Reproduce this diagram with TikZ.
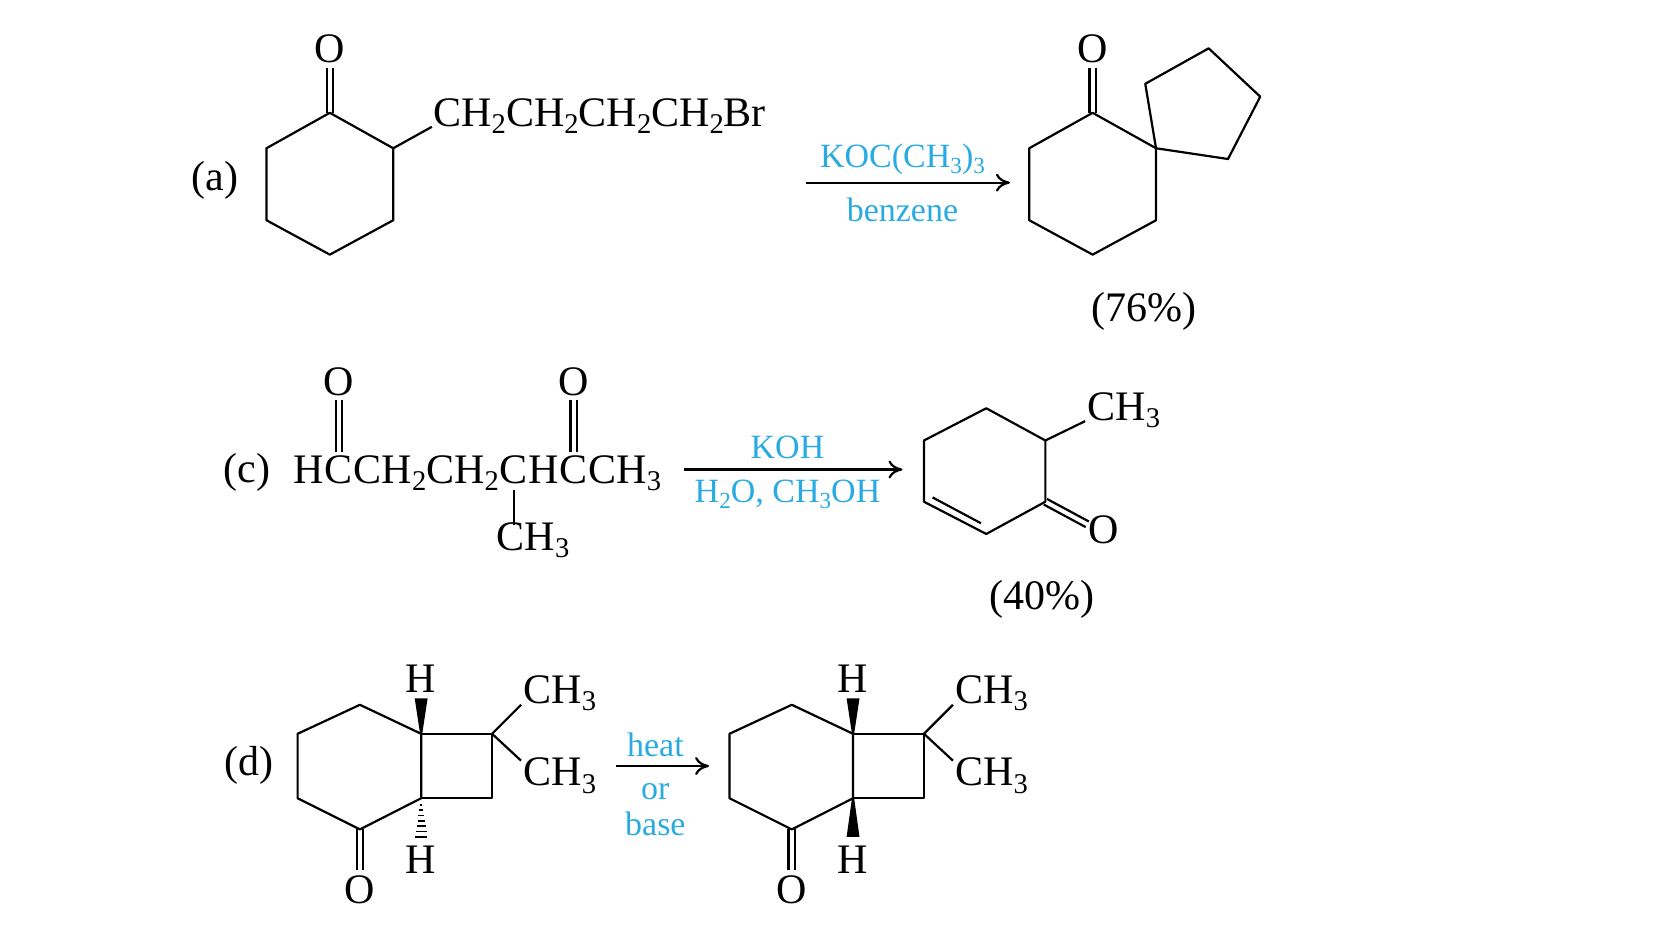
\documentclass[tikz,border=0pt]{standalone}
\usepackage{fontspec}
\usepackage{graphicx}
\setmainfont{Liberation Serif}
\usetikzlibrary{calc,arrows.meta}
\definecolor{rblue}{HTML}{29ABE2}
\newcommand{\sbs}[1]{\raisebox{-0.38ex}{\scalebox{0.68}{#1}}}
\begin{document}
\begin{tikzpicture}[x=0.537pt,y=-0.537pt,
  bond/.style={line width=1.1pt,line join=round},
  txt/.style={font=\fontsize{21}{24}\selectfont,inner sep=0pt},
  ch/.style={txt,anchor=base west},
  reag/.style={font=\fontsize{17}{20}\selectfont,text=rblue,inner sep=0pt},
  rxn/.style={line width=1.1pt,-{To[length=7pt,width=9pt]}}]
\useasboundingbox (0,0) rectangle (1560,873);
% ---------- (a) ----------
\node[txt] (la) at (200,168) {(a)};
\coordinate (a1) at (307,105); \coordinate (a2) at (366,138); \coordinate (a3) at (366,205);
\coordinate (a4) at (307,237); \coordinate (a5) at (248,205); \coordinate (a6) at (248,138);
\draw[bond] (a1)--(a2)--(a3)--(a4)--(a5)--(a6)--cycle;
\node[txt] (aO) at (307,45) {O};
\draw[bond] ($(a1)+(-3,0)$)--++(0,-42) ($(a1)+(3,0)$)--++(0,-42);
\coordinate (aS) at (402,118);
\draw[bond] (a2)--(aS);
\node[txt,anchor=west] (achain) at (403,108) {CH\sbs{2}CH\sbs{2}CH\sbs{2}CH\sbs{2}Br};
\coordinate (ar1) at (750,170); \coordinate (ar2) at (940,170);
\draw[rxn] (ar1)--(ar2);
\node[reag] (ra1) at (840,148) {KOC(CH\sbs{3})\sbs{3}};
\node[reag] (ra2) at (840,195) {benzene};
\coordinate (b1) at (1017,105); \coordinate (b2) at (1076,138); \coordinate (b3) at (1076,205);
\coordinate (b4) at (1017,237); \coordinate (b5) at (958,205); \coordinate (b6) at (958,138);
\draw[bond] (b1)--(b2)--(b3)--(b4)--(b5)--(b6)--cycle;
\node[txt] (bO) at (1017,45) {O};
\draw[bond] ($(b1)+(-3,0)$)--++(0,-42) ($(b1)+(3,0)$)--++(0,-42);
\coordinate (p2) at (1066,78); \coordinate (p3) at (1125,45); \coordinate (p4) at (1173,90); \coordinate (p5) at (1143,148);
\draw[bond] (b2)--(p2)--(p3)--(p4)--(p5)--cycle;
\node[txt] (ya) at (1065,290) {(76\%)};
% ---------- (c) ----------
\node[txt] (lc) at (230,440) {(c)};
\node[ch] (cH) at (273,450) {H};
\node[ch] (cC1) at (cH.base east) {C};
\node[ch] (cM) at (cC1.base east) {CH\sbs{2}CH\sbs{2}};
\node[ch] (cC2) at (cM.base east) {C};
\node[ch] (cH2) at (cC2.base east) {H};
\node[ch] (cC3) at (cH2.base east) {C};
\node[ch] (cE) at (cC3.base east) {CH\sbs{3}};
\node[txt] (cO1) at ($(cC1.north)+(0,-68)$) {O};
\node[txt] (cO2) at ($(cC3.north)+(0,-68)$) {O};
\draw[bond] ($(cC1.north)+(-3,-3)$)--($(cO1.south)+(-3,3)$) ($(cC1.north)+(3,-3)$)--($(cO1.south)+(3,3)$);
\draw[bond] ($(cC3.north)+(-3,-3)$)--($(cO2.south)+(-3,3)$) ($(cC3.north)+(3,-3)$)--($(cO2.south)+(3,3)$);
\node[txt] (cMe) at ($(cC2.south)+(18,52)$) {CH\sbs{3}};
\draw[bond] ($(cC2.south)+(0,5)$)--($(cC2.south)+(0,38)$);
\coordinate (cr1) at (637,437); \coordinate (cr2) at (840,437);
\draw[rxn] (cr1)--(cr2);
\node[reag] (rc1) at (733,416) {KOH};
\node[reag] (rc2) at (733,460) {H\sbs{2}O, CH\sbs{3}OH};
\coordinate (d1) at (918,380); \coordinate (d2) at (973,410); \coordinate (d3) at (973,467);
\coordinate (d4) at (918,497); \coordinate (d5) at (860,467); \coordinate (d6) at (860,410);
\draw[bond] (d1)--(d2)--(d3)--(d4)--(d5)--(d6)--cycle;
\draw[bond] (868,463)--(913,487);
\node[txt] (dO) at (1027,493) {O};
\draw[bond] ($(d3)+(-1.5,2.6)$)--($(1012,488)+(-1.5,2.6)$) ($(d3)+(1.5,-2.6)$)--($(1012,488)+(1.5,-2.6)$);
\coordinate (dS) at (1010,392);
\draw[bond] (d2)--(dS);
\node[txt] (dMe) at (1046,382) {CH\sbs{3}};
\node[txt] (yc) at (970,558) {(40\%)};
% ---------- (d) ----------
\node[txt] (ld) at (232,712) {(d)};
\foreach \s/\dx in {e/0,f/402}{
  \begin{scope}[xshift=\dx*0.537pt]
  \coordinate (\s1) at (335,656); \coordinate (\s2) at (392,683); \coordinate (\s3) at (392,743);
  \coordinate (\s4) at (335,772); \coordinate (\s5) at (277,743); \coordinate (\s6) at (277,683);
  \coordinate (\s7) at (458,683); \coordinate (\s8) at (458,743);
  \draw[bond] (\s1)--(\s2)--(\s3)--(\s4)--(\s5)--(\s6)--cycle;
  \draw[bond] (\s2)--(\s7)--(\s8)--(\s3);
  \coordinate (\s m1) at (485,656); \coordinate (\s m2) at (485,708);
  \draw[bond] (\s7)--(\s m1) (\s7)--(\s m2);
  \node[txt] (\s M1) at (521,645) {CH\sbs{3}};
  \node[txt] (\s M2) at (521,722) {CH\sbs{3}};
  \node[txt] (\s Ht) at (392,632) {H};
  \node[txt] (\s Hb) at (392,800) {H};
  \node[txt] (\s O) at (335,828) {O};
  \draw[bond] ($(\s4)+(-3,0)$)--++(0,38) ($(\s4)+(3,0)$)--++(0,38);
  \fill ($(\s2)+(-1,0)$)--($(\s2)+(1,0)$)--(398,650)--(386,650)--cycle;
  \end{scope}}
\fill ($(f3)+(-1,0)$)--($(f3)+(1,0)$)--(800,779)--(788,779)--cycle;
\foreach \i in {0,...,6}{
  \draw[line width=0.9pt] ($(e3)+(-1-\i*0.8,6+\i*5)$)--($(e3)+(1+\i*0.8,6+\i*5)$);}
\coordinate (dr1) at (573,713); \coordinate (dr2) at (660,713);
\draw[rxn] (dr1)--(dr2);
\node[reag] (rd1) at (610,693) {heat};
\node[reag] (rd2) at (610,737) {or};
\node[reag] (rd3) at (610,767) {base};
\end{tikzpicture}
\end{document}
